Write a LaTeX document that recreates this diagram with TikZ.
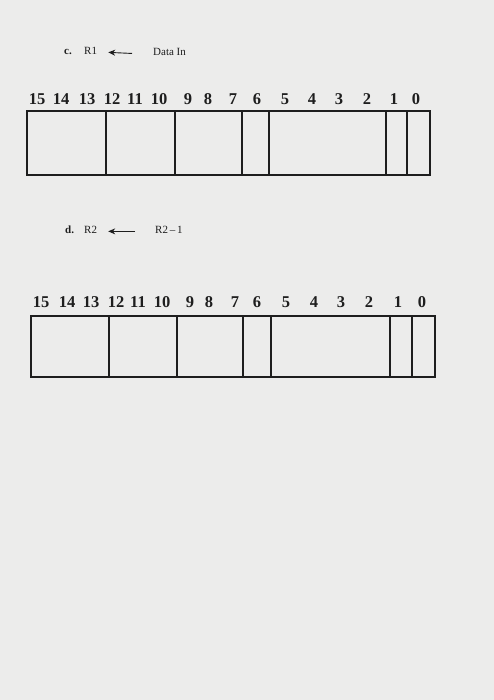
\documentclass[tikz,border=0pt]{standalone}
\usepackage{fontspec}
\setmainfont{Liberation Serif}
\usetikzlibrary{arrows.meta}
\definecolor{paper}{HTML}{ECECEB}
\definecolor{ink}{HTML}{1E1E1E}
\begin{document}
\begin{tikzpicture}[x=1pt,y=-1pt,
  bitlbl/.style={font=\fontsize{16.5}{16.5}\selectfont\bfseries, text=ink, inner sep=0pt, anchor=center},
  hdr/.style={font=\fontsize{11}{12}\selectfont, text=ink, inner sep=0pt, anchor=base west},
  field/.style={draw=ink, line width=1.4pt},
  arr/.style={draw=ink, line width=0.9pt, -{Stealth[length=7pt,width=6pt]}}]
\fill[paper] (0,0) rectangle (494,700);
\useasboundingbox (0,0) rectangle (494,700);

% ---- c. R1 <- Data In
\node[hdr] (clab) at (64,55) {\textbf{c.}};
\node[hdr] (r1) at (84,55) {R1};
\node[hdr] (din) at (153,56) {Data In};
\draw[arr] ([xshift=-21pt,yshift=-1pt]din.west) -- ([xshift=11pt,yshift=-1pt]r1.east);

% bit labels, register 1
\foreach \b/\x in {15/37,14/61,13/87,12/112,11/135,10/159,9/188,8/208,7/233,6/257,5/285,4/312,3/339,2/367,1/394,0/416}
  \node[bitlbl] (a\b) at (\x,99) {\b};

% register 1 fields
\coordinate (c1tl) at (27,111);
\coordinate (c1br) at (430,175);
\draw[field] (c1tl) rectangle (c1br);
\foreach \x in {106,175,242,269,386,407}
  \draw[field] (\x,111) -- (\x,175);

% ---- d. R2 <- R2 - 1
\node[hdr] (dlab) at (65,234) {\textbf{d.}};
\node[hdr] (r2) at (84,234) {R2};
\node[hdr] (r2m) at (155,234) {R2\,\textendash\,1};
\draw[arr] ([xshift=-20pt,yshift=-1pt]r2m.west) -- ([xshift=11pt,yshift=-1pt]r2.east);

% bit labels, register 2
\foreach \b/\x in {15/41,14/67,13/91,12/116,11/138,10/162,9/190,8/209,7/235,6/257,5/286,4/314,3/341,2/369,1/398,0/422}
  \node[bitlbl] (b\b) at (\x,302) {\b};

% register 2 fields
\coordinate (c2tl) at (31,316);
\coordinate (c2br) at (435,377);
\draw[field] (c2tl) rectangle (c2br);
\foreach \x in {109,177,243,271,390,412}
  \draw[field] (\x,316) -- (\x,377);
\end{tikzpicture}
\end{document}
